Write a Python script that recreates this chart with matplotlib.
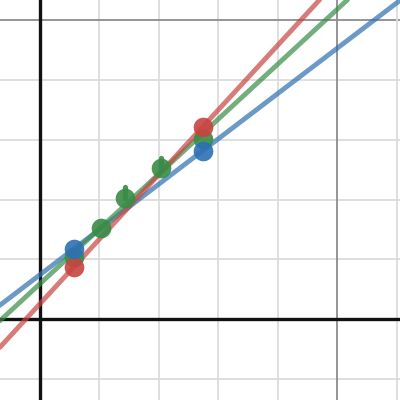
import numpy as np
import matplotlib
matplotlib.use("Agg")
import matplotlib.pyplot as plt

# data
red_x = [0.58, 2.74]
red_y = [0.88, 3.22]
blue_x = [0.58, 2.74]
blue_y = [1.18, 2.82]
green_x = [0.58, 1.03, 1.44, 2.04, 2.74]
green_y = [1.04, 1.52, 2.03, 2.53, 3.02]
green_err_up = [0.0, 0.0, 0.19, 0.17, 0.0]

RED = "#c74440"
BLUE = "#2d70b3"
GREEN = "#388c46"

fig = plt.figure(figsize=(4, 4), dpi=100)
ax = fig.add_axes([0, 0, 1, 1])
ax.set_xlim(-0.663, 6.05)
ax.set_ylim(-1.35, 5.34)
ax.axis("off")

# grid
for g in range(-1, 7):
    if g == 0:
        continue
    col = "#8c8c8c" if g == 5 else "#dcdcdc"
    ax.axvline(g, color=col, lw=1.3, zorder=0)
    ax.axhline(g, color=col, lw=1.3, zorder=0)
ax.axvline(0, color="#111111", lw=2.4, zorder=1)
ax.axhline(0, color="#111111", lw=2.4, zorder=1)

xs = np.array([-1.0, 7.0])
for px, py, c, z in [(blue_x, blue_y, BLUE, 2), (green_x, green_y, GREEN, 3), (red_x, red_y, RED, 4)]:
    m, b = np.polyfit(px, py, 1)
    ax.plot(xs, m * xs + b, color=c, lw=3.5, alpha=0.7, zorder=z, solid_capstyle="butt")

# little stubs above two of the green points
for x, y, e in zip(green_x, green_y, green_err_up):
    if e > 0:
        ax.plot([x, x], [y, y + e], color=GREEN, lw=3.8, alpha=0.9,
                solid_capstyle="round", zorder=5)
ax.scatter(green_x, green_y, s=200, color=GREEN, alpha=0.9, lw=0, zorder=6)
ax.scatter(red_x, red_y, s=200, color=RED, alpha=0.9, lw=0, zorder=7)
ax.scatter(blue_x, blue_y, s=200, color=BLUE, alpha=0.9, lw=0, zorder=8)

fig.savefig("out.png", dpi=100)
